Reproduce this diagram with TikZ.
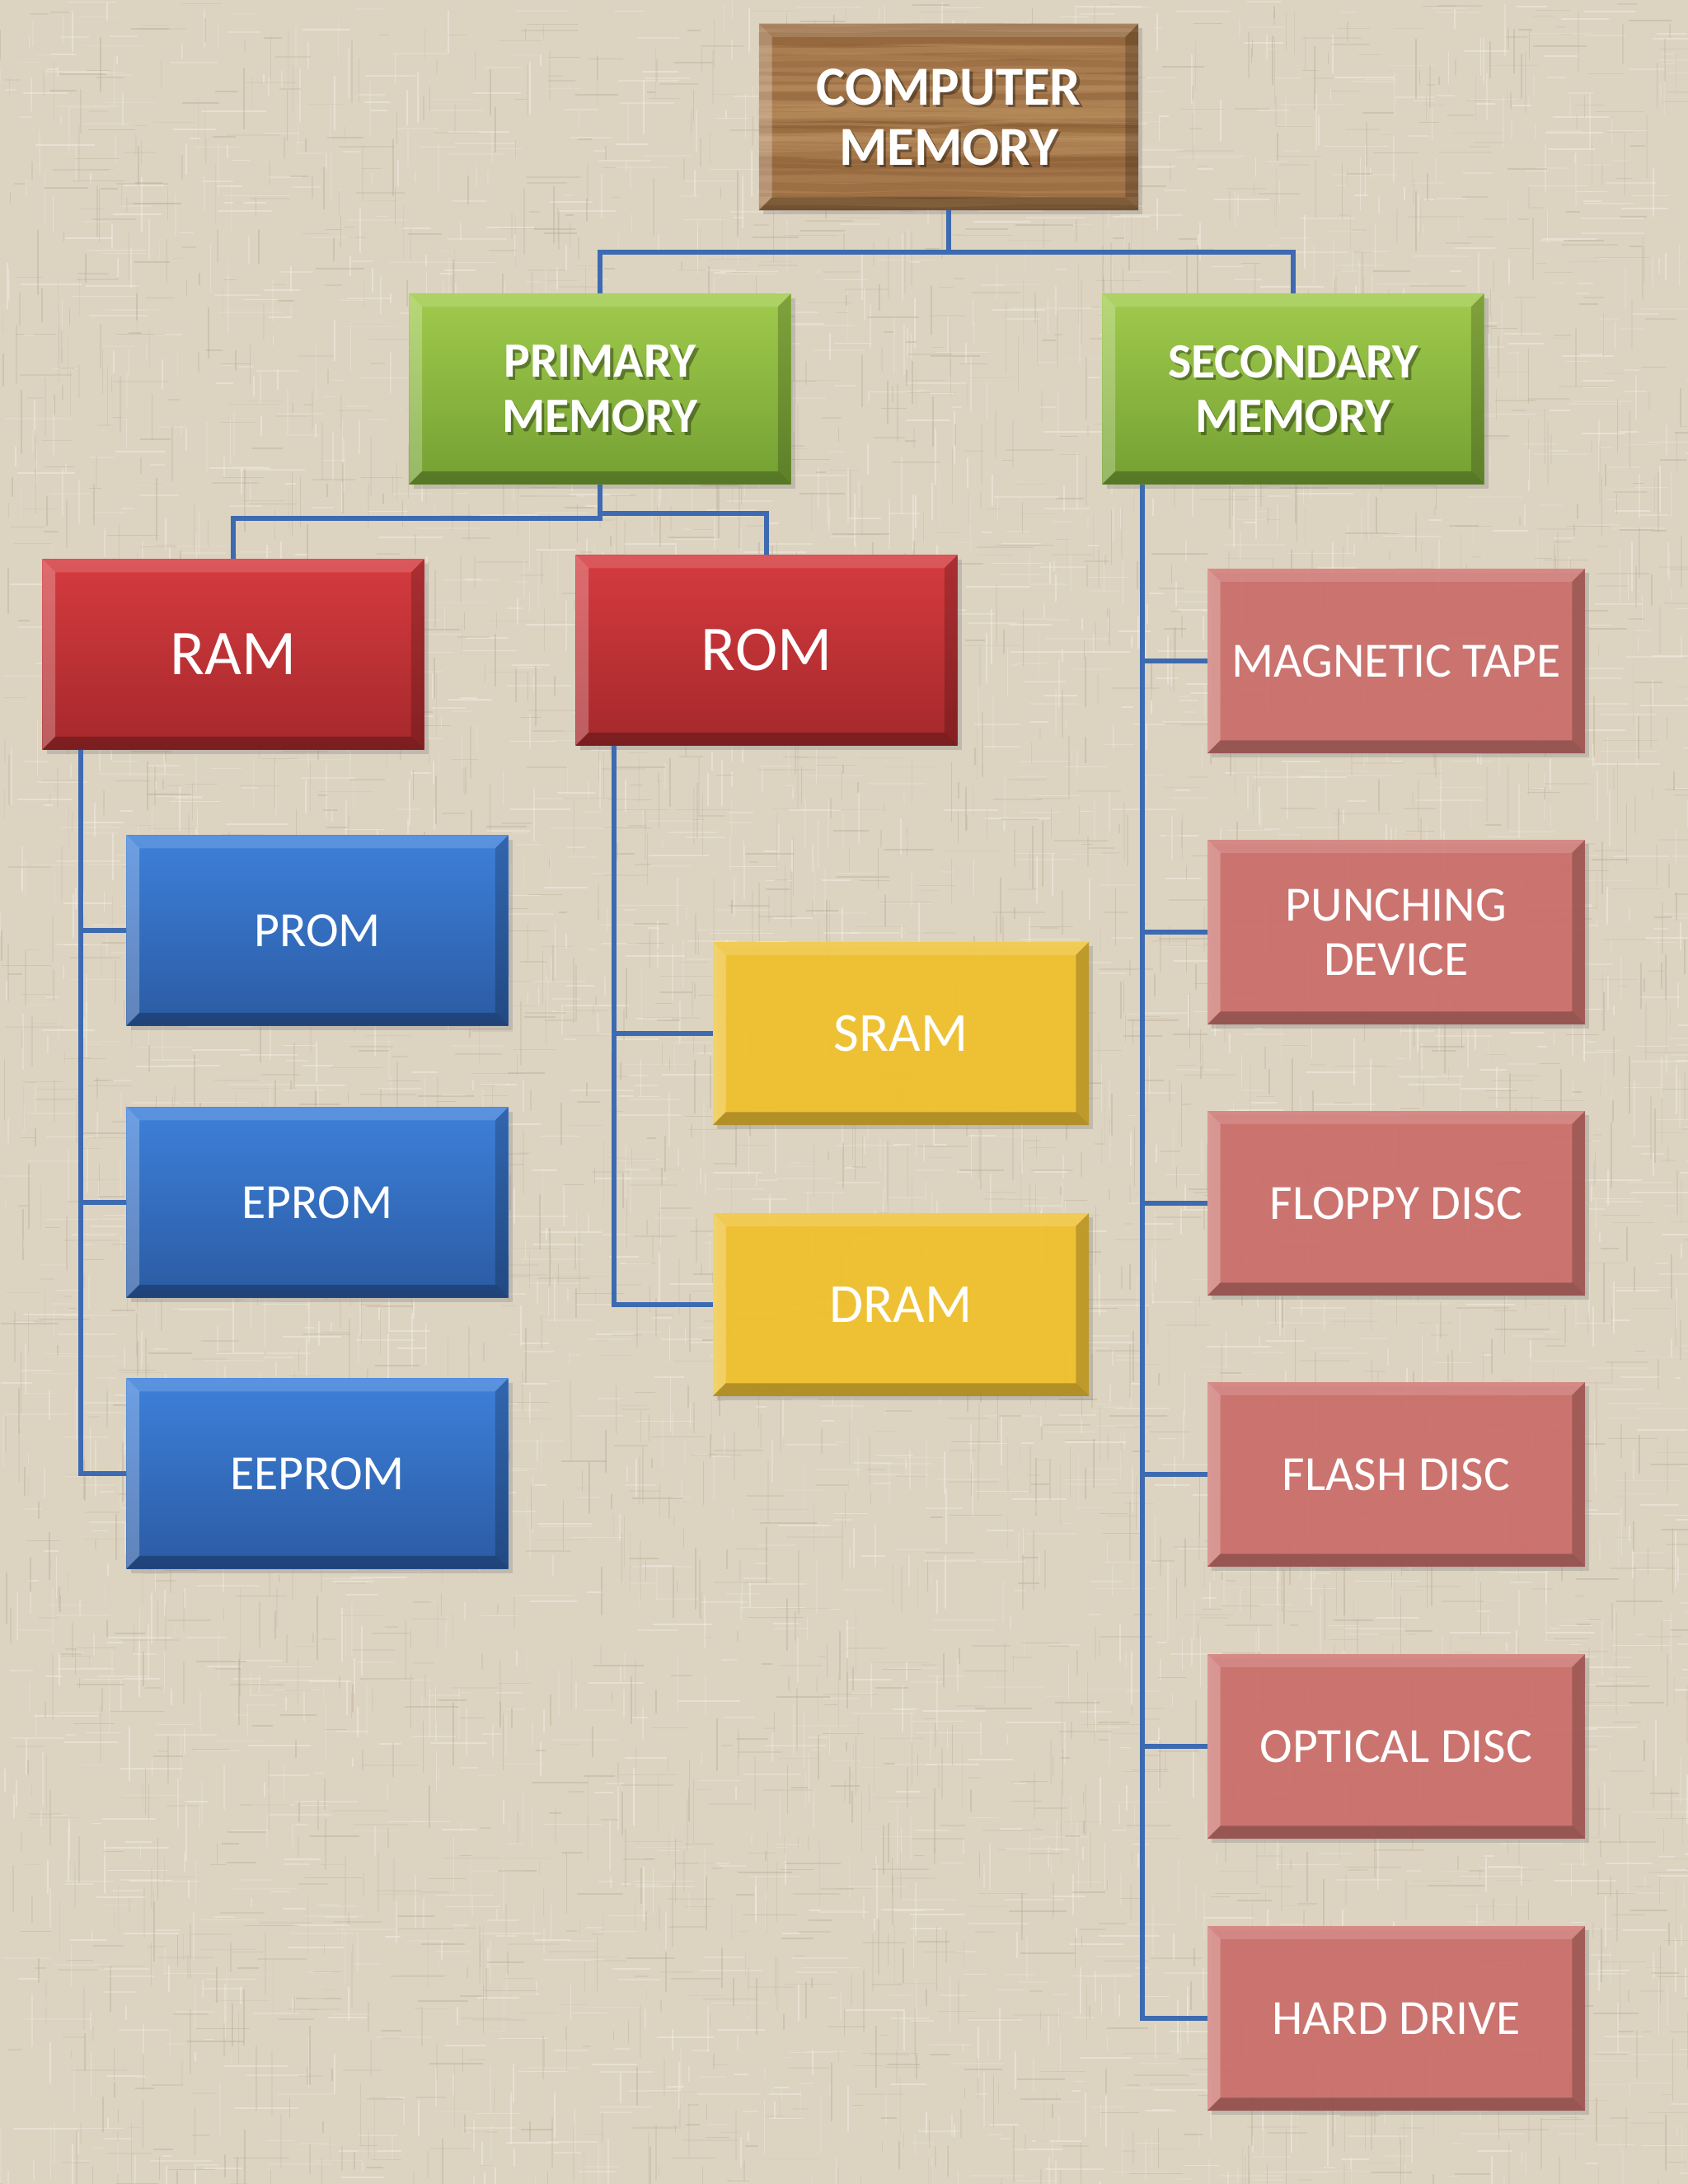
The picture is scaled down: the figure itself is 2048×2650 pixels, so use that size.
\documentclass[tikz,border=0pt]{standalone}
\usepackage{fontspec}
\setmainfont{Carlito}
\usetikzlibrary{calc,shadows,decorations.pathmorphing}
\definecolor{bgc}{HTML}{DCD3C1}
\definecolor{thrl}{HTML}{F1ECE0}
\definecolor{thrd}{HTML}{B5A890}
\definecolor{linec}{HTML}{3D6AB0}
\definecolor{woodb}{HTML}{A97B50}
\definecolor{woodd}{HTML}{86592F}
\definecolor{woodl}{HTML}{C49A68}
\definecolor{greent}{HTML}{A0CB4C}
\definecolor{greenb}{HTML}{74A033}
\definecolor{redt}{HTML}{D53B3F}
\definecolor{redb}{HTML}{A5282B}
\definecolor{bluet}{HTML}{3D80DA}
\definecolor{blueb}{HTML}{2B5BA3}
\definecolor{yel}{HTML}{F2C22C}
\definecolor{pinkc}{HTML}{CD6C69}
\newcommand\bevelpp{%
  \coordinate (pnw) at (path picture bounding box.north west);
  \coordinate (pne) at (path picture bounding box.north east);
  \coordinate (psw) at (path picture bounding box.south west);
  \coordinate (pse) at (path picture bounding box.south east);
  \fill[white,opacity=0.15] (pnw) -- (pne) -- ([shift={(-4.5pt,-4.5pt)}]pne) -- ([shift={(4.5pt,-4.5pt)}]pnw) -- cycle;
  \fill[white,opacity=0.25] (pnw) -- ([shift={(4.5pt,-4.5pt)}]pnw) -- ([shift={(4.5pt,4.5pt)}]psw) -- (psw) -- cycle;
  \fill[black,opacity=0.2] (pne) -- (pse) -- ([shift={(-4.5pt,4.5pt)}]pse) -- ([shift={(-4.5pt,-4.5pt)}]pne) -- cycle;
  \fill[black,opacity=0.25] (psw) -- (pse) -- ([shift={(-4.5pt,4.5pt)}]pse) -- ([shift={(4.5pt,4.5pt)}]psw) -- cycle;
}
\tikzset{
  x=0.01cm, y=-0.01cm,
  box/.style={rectangle, inner sep=0pt, outer sep=0pt, text=white, align=center,
    drop shadow={opacity=0.3, shadow xshift=1.5pt, shadow yshift=-1.5pt}},
  bigw/.style={minimum width=4.63cm, minimum height=2.31cm},
  titlefont/.style={font=\bfseries\fontsize{19}{20.7}\selectfont},
  subtitlefont/.style={font=\bfseries\fontsize{17}{19}\selectfont},
  regfont/.style={font=\fontsize{17}{18.8}\selectfont},
  yelfont/.style={font=\fontsize{19}{21}\selectfont},
  bigfont/.style={font=\fontsize{22}{24}\selectfont},
  greenbox/.style={box, bigw, top color=greent, bottom color=greenb, subtitlefont,
    path picture={\bevelpp\node[subtitlefont, text=black, opacity=0.35, align=center] at ([shift={(1pt,-1pt)}]path picture bounding box.center) {#1};}},
  redbox/.style={box, bigw, top color=redt, bottom color=redb, bigfont, path picture={\bevelpp}},
  bluebox/.style={box, bigw, top color=bluet, bottom color=blueb, regfont, path picture={\bevelpp}},
  yelbox/.style={box, minimum width=4.56cm, minimum height=2.22cm, fill=yel, fill opacity=0.93, text opacity=1, yelfont, path picture={\bevelpp}},
  pinkbox/.style={box, minimum width=4.58cm, minimum height=2.24cm, fill=pinkc, fill opacity=0.9, text opacity=1, regfont, path picture={\bevelpp}},
  conn/.style={draw=linec, line width=1.7pt},
}
\begin{document}
\begin{tikzpicture}
\useasboundingbox (0,0) rectangle (2048,2650);
% linen background
\fill[bgc] (0,0) rectangle (2048,2650);
\pgfmathsetseed{4242}
\begin{scope}
\clip (0,0) rectangle (2048,2650);
\foreach \op in {0.25,0.4,0.55}{
  \draw[thrl, opacity=\op, line width=0.5pt]
    foreach \i in {1,...,700}{ (rnd*2048, rnd*2650) -- ++(10+rnd*70,0) };
  \draw[thrl, opacity=\op, line width=0.5pt]
    foreach \i in {1,...,600}{ (rnd*2048, rnd*2650) -- ++(0,10+rnd*60) };
}
\foreach \op in {0.15,0.25,0.35}{
  \draw[thrd, opacity=\op, line width=0.45pt]
    foreach \i in {1,...,700}{ (rnd*2048, rnd*2650) -- ++(0,10+rnd*70) };
  \draw[thrd, opacity=\op, line width=0.45pt]
    foreach \i in {1,...,600}{ (rnd*2048, rnd*2650) -- ++(10+rnd*60,0) };
}
\end{scope}

% top wooden box
\node[box, minimum width=4.60cm, minimum height=2.26cm, fill=woodb, titlefont,
  path picture={
    \foreach \k in {1,...,30}{
      \pgfmathsetmacro\fy{rnd}\pgfmathsetmacro\lw{1+rnd*4}\pgfmathsetmacro\op{0.12+rnd*0.3}
      \draw[woodd, line width=\lw pt, opacity=\op, decorate, decoration={random steps, segment length=30pt, amplitude=1pt}]
        ($(path picture bounding box.north west)!\fy!(path picture bounding box.south west)$) -- ++(470,0);
    }
    \foreach \k in {1,...,20}{
      \pgfmathsetmacro\fy{rnd}\pgfmathsetmacro\lw{1+rnd*3}\pgfmathsetmacro\op{0.12+rnd*0.3}
      \draw[woodl, line width=\lw pt, opacity=\op, decorate, decoration={random steps, segment length=30pt, amplitude=1pt}]
        ($(path picture bounding box.north west)!\fy!(path picture bounding box.south west)$) -- ++(470,0);
    }
    \bevelpp
    \node[titlefont, text=black, opacity=0.35, align=center] at ([shift={(1pt,-1pt)}]path picture bounding box.center) {COMPUTER\\MEMORY};
  }] (cm) at (1151,142) {COMPUTER\\MEMORY};

\node[greenbox={PRIMARY\\MEMORY}] (prim) at (728,472) {PRIMARY\\MEMORY};
\node[greenbox={SECONDARY\\MEMORY}] (sec) at (1569,472) {SECONDARY\\MEMORY};

\node[redbox] (ram) at (283,794) {RAM};
\node[redbox] (rom) at (930,789) {ROM};

\node[bluebox] (prom) at (385,1129) {PROM};
\node[bluebox] (eprom) at (385,1459) {EPROM};
\node[bluebox] (eeprom) at (385,1788) {EEPROM};

\node[yelbox] (sram) at (1093,1254) {SRAM};
\node[yelbox] (dram) at (1093,1583) {DRAM};

\node[pinkbox] (mt) at (1694,802) {MAGNETIC TAPE};
\node[pinkbox] (pd) at (1694,1131) {PUNCHING\\DEVICE};
\node[pinkbox] (fd) at (1694,1460) {FLOPPY DISC};
\node[pinkbox] (fl) at (1694,1789) {FLASH DISC};
\node[pinkbox] (od) at (1694,2119) {OPTICAL DISC};
\node[pinkbox] (hd) at (1694,2449) {HARD DRIVE};

% connectors
\coordinate (j1) at (1151,306);
\draw[conn] (cm.south) -- (j1);
\draw[conn] (prim.north) |- (j1) -| (sec.north);
\coordinate (j2) at (728,629);
\coordinate (j3) at (728,623);
\draw[conn] (prim.south) -- (j2) -| (ram.north);
\draw[conn] (j3) -| (rom.north);

\coordinate (rt) at (98,911);
\draw[conn] (ram.south -| rt) |- (eeprom.west);
\draw[conn] (prom.west) -- (prom.west -| rt);
\draw[conn] (eprom.west) -- (eprom.west -| rt);

\coordinate (ot) at (745,904);
\draw[conn] (rom.south -| ot) |- (dram.west);
\draw[conn] (sram.west) -- (sram.west -| ot);

\coordinate (st) at (1386,588);
\draw[conn] (sec.south -| st) |- (hd.west);
\foreach \n in {mt,pd,fd,fl,od}{
  \draw[conn] (\n.west) -- (\n.west -| st);
}
\end{tikzpicture}
\end{document}
